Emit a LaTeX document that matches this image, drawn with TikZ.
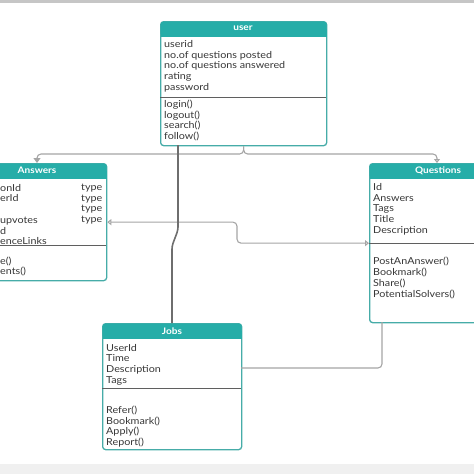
\documentclass[tikz,border=0pt]{standalone}
\usepackage{fontspec}
\setmainfont{Lato}[FakeStretch=1.12]
\usetikzlibrary{arrows.meta}
\definecolor{headteal}{RGB}{38,173,168}
\definecolor{boxteal}{RGB}{70,172,168}
\definecolor{txtgray}{RGB}{55,55,55}
\definecolor{linkgray}{RGB}{165,165,165}
\definecolor{darklink}{RGB}{110,110,110}
\tikzset{
  classbox/.style={draw=boxteal, line width=1.3pt, rounded corners=3pt, fill=white, anchor=north west, inner sep=0pt},
  headtxt/.style={text=white, font=\fontsize{9}{10}\selectfont\bfseries},
  rows/.style={text=txtgray, font=\fontsize{9.6}{10.7}\selectfont, align=left, anchor=west, inner sep=0pt},
  sepline/.style={draw=txtgray!80, line width=0.8pt},
  link/.style={draw=linkgray, line width=1.1pt, rounded corners=4pt},
}
\begin{document}
\begin{tikzpicture}[x=1pt, y=-1pt]
    \useasboundingbox (0,0) rectangle (474,474);
    \fill[gray!45] (0,0) rectangle (474,3);
    \fill[gray!12] (0,464) rectangle (474,474);

    % class boxes
    \node[classbox, minimum width=166pt, minimum height=124pt] (user) at (160,21) {};
    \node[classbox, minimum width=138pt, minimum height=117pt] (ans) at (-32,163) {};
    \node[classbox, minimum width=138pt, minimum height=159pt] (que) at (369,163) {};
    \node[classbox, minimum width=139pt, minimum height=126pt] (jobs) at (102,323) {};

    % headers
    \foreach \b in {user, ans, que, jobs} {
        \fill[headteal, rounded corners=3pt] ([xshift=0.6pt,yshift=-0.6pt]\b.north west) rectangle ([xshift=-0.6pt,yshift=-15.5pt]\b.north east);
        \fill[headteal] ([xshift=0.6pt,yshift=-8pt]\b.north west) rectangle ([xshift=-0.6pt,yshift=-15.5pt]\b.north east);
    }
    \node[headtxt] (userT) at (243,28.5) {user};
    \node[headtxt] (ansT) at (37,170.5) {Answers};
    \node[headtxt] (queT) at (438,170.5) {Questions};
    \node[headtxt] (jobsT) at (172,331) {Jobs};

    % separators
    \draw[sepline] (160,97) -- (326,97);
    \draw[sepline] (-32,245) -- (106,245);
    \draw[sepline] (369,243) -- (507,243);
    \draw[sepline] (102,388) -- (241,388);

    % user
    \node[rows] (userA) at (164,66) {userid\\no.of questions posted\\no.of questions answered\\rating\\password};
    \node[rows] (userM) at (164,120.5) {login()\\logout()\\search()\\follow()};

    % answers
    \node[rows] (ansA) at (0,214.5) {onId\\erId\\\mbox{}\\upvotes\\d\\enceLinks};
    \node[rows] (ansY) at (81,204) {type\\type\\type\\type};
    \node[rows] (ansM) at (0,266.5) {e()\\ents()};

    % questions
    \node[rows] (queA) at (373,209) {Id\\Answers\\Tags\\Title\\Description};
    \node[rows] (queM) at (373,278) {PostAnAnswer()\\Bookmark()\\Share()\\PotentialSolvers()};

    % jobs
    \node[rows] (jobsA) at (106,364.5) {UserId\\Time\\Description\\Tags};
    \node[rows] (jobsM) at (106,426.5) {Refer()\\Bookmark()\\Apply()\\Report()};

    % bends
    \coordinate (a1) at (37,154);
    \coordinate (q1) at (437,154);
    \coordinate (j1) at (178,145);
    \coordinate (j2) at (178,230);
    \coordinate (j3) at (172,246);
    \coordinate (m1) at (237,232);
    \coordinate (jq1) at (241,368);
    \coordinate (jq2) at (382,322);

    % connectors
    \draw[link, -{Triangle[width=7pt,length=5pt]}] (user.south) |- (a1) -- (a1 |- ans.north);
    \draw[link, -{Triangle[open,width=6pt,length=4pt]}] (user.south) |- (q1) -- (q1 |- que.north);
    \draw[link, {Triangle[open,width=6pt,length=4pt]}-{Triangle[open,width=6pt,length=4pt]}] (ans.east) -| (m1) |- (que.west);
    \draw[link] (jq1) -| (jq2);
    \draw[draw=darklink, line width=1.6pt, rounded corners=3pt] (j1) -- (j2) -- (j3) -- (j3 |- jobs.north);
\end{tikzpicture}
\end{document}
